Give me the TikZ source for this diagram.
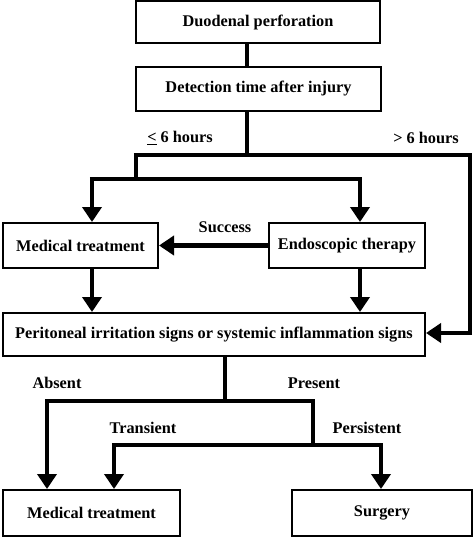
\documentclass[tikz,border=0pt]{standalone}
\usepackage{fontspec}
\setmainfont{Liberation Serif}
\usetikzlibrary{arrows.meta}
\begin{document}
\begin{tikzpicture}[x=1pt,y=-1pt,
  box/.style={draw,line width=2pt,rectangle,inner sep=0pt,font=\fontsize{16.3}{18}\selectfont\bfseries},
  conn/.style={line width=4.5pt},
  arr/.style={line width=4.5pt,-{Triangle[width=19pt,length=15pt]}},
  lbl/.style={font=\fontsize{16.3}{18}\selectfont\bfseries,inner sep=0pt}]
\useasboundingbox (0,0) rectangle (474,537);
\node[box,minimum width=244pt,minimum height=42pt] (b1) at (258,22.5) {Duodenal perforation};
\node[box,minimum width=245pt,minimum height=44pt] (b2) at (258.5,89) {Detection time after injury};
\node[box,minimum width=155pt,minimum height=45pt] (m1) at (80.5,245.5) {Medical treatment};
\node[box,minimum width=156pt,minimum height=45pt] (en) at (347,245.5) {Endoscopic therapy};
\node[box,minimum width=422pt,minimum height=43pt] (pe) at (214,334.5) {Peritoneal irritation signs or systemic inflammation signs};
\node[box,minimum width=177pt,minimum height=46pt] (m2) at (91.5,513) {Medical treatment};
\node[box,minimum width=180pt,minimum height=46pt] (su) at (382,513) {Surgery};
% coordinates
\coordinate (c1) at (247,155);
\coordinate (cl) at (136,155);
\coordinate (cr) at (470,155);
\coordinate (cl2) at (136,179);
\coordinate (a1) at (92,179);
\coordinate (a2) at (360,179);
\coordinate (pr) at (470,333);
\coordinate (d1) at (225,401);
\coordinate (d2) at (47,401);
\coordinate (d3) at (313,401);
\coordinate (d4) at (313,445);
\coordinate (e1) at (114,445);
\coordinate (e2) at (381,445);
% connectors
\draw[conn] (b1.south -| c1) -- (b2.north -| c1);
\draw[conn] (b2.south -| c1) -- (c1);
\draw[conn] ([xshift=-2.25pt]cl) -- ([xshift=2.25pt]cr);
\draw[conn] (cl) -- (cl2);
\draw[conn] ([xshift=-2.25pt]a1) -- ([xshift=2.25pt]a2);
\draw[arr] (a1) -- (m1.north -| a1);
\draw[arr] (a2) -- (en.north -| a2);
\draw[arr] (cr) -- (pr) -- (pe.east |- pr);
\draw[arr] (en.west) -- (m1.east);
\draw[arr] (m1.south -| a1) -- (pe.north -| a1);
\draw[arr] (en.south -| a2) -- (pe.north -| a2);
\draw[conn] (pe.south -| d1) -- (d1);
\draw[conn] ([xshift=-2.25pt]d2) -- (d3) -- (d4);
\draw[arr] (d2) -- (m2.north -| d2);
\draw[conn] ([xshift=-2.25pt]e1) -- ([xshift=2.25pt]e2);
\draw[arr] (e1) -- (m2.north -| e1);
\draw[arr] (e2) -- (su.north -| e2);
% labels
\node[lbl] (l1) at (180,138) {\underline{<} 6 hours};
\node[lbl] (l2) at (426,138) {> 6 hours};
\node[lbl] (l3) at (225,227) {Success};
\node[lbl] (l4) at (57,383) {Absent};
\node[lbl] (l5) at (314,383) {Present};
\node[lbl] (l6) at (143,428) {Transient};
\node[lbl] (l7) at (367,428) {Persistent};
\end{tikzpicture}
\end{document}
